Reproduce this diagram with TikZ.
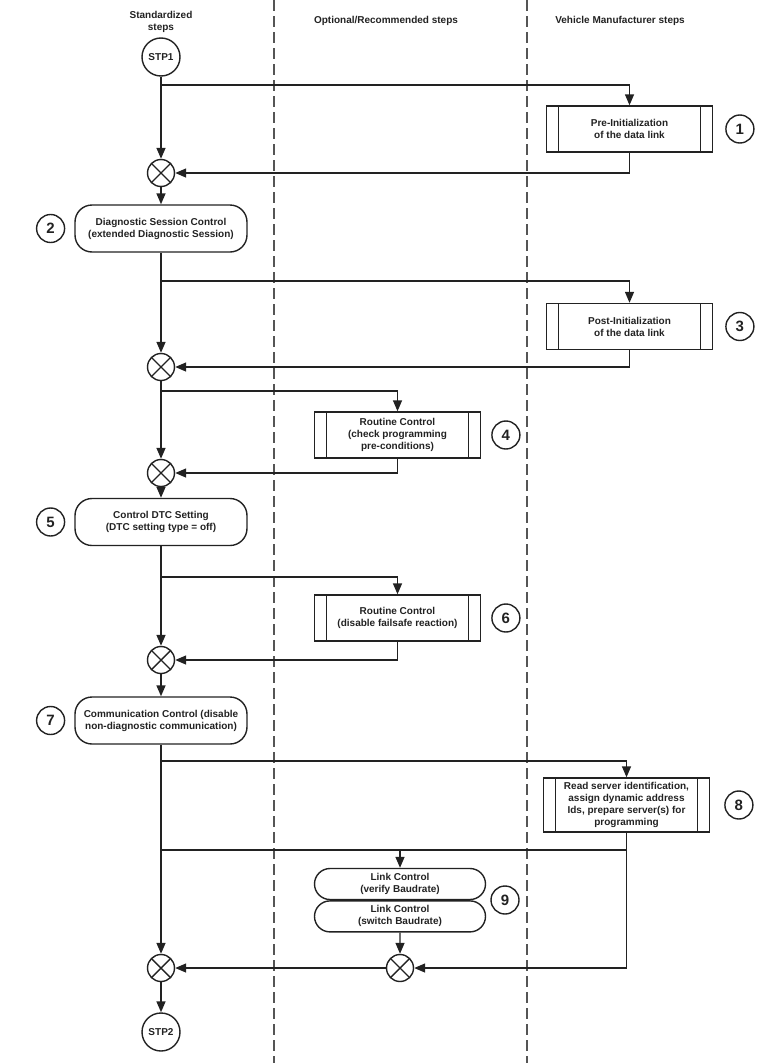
\documentclass[tikz,border=0pt]{standalone}
\usepackage{fontspec}
\setmainfont{Liberation Sans}
\usetikzlibrary{positioning,arrows.meta,shapes.misc}

\definecolor{ink}{HTML}{222222}
\definecolor{lanegray}{HTML}{555555}
\newcommand\stepfont{\fontsize{10}{12}\selectfont\bfseries}

\tikzset{
	flow/.style={draw=ink,line width=1.4pt,-{Triangle[length=11pt,width=9pt]}},
	wire/.style={draw=ink,line width=1.4pt},
	lane/.style={draw=lanegray,line width=1.4pt,dash pattern=on 11pt off 5pt},
	terminal/.style={shape=circle,draw=ink,line width=1.4pt,minimum size=38pt,inner sep=0pt,font=\stepfont,text=ink},
	merge/.style={shape=circle,draw=ink,line width=1.4pt,minimum size=27pt,inner sep=0pt,
		path picture={\draw[ink,line width=1.4pt] (path picture bounding box.north west) -- (path picture bounding box.south east)
			(path picture bounding box.north east) -- (path picture bounding box.south west);}},
	stdbox/.style={shape=rectangle,rounded corners=17pt,draw=ink,line width=1.4pt,minimum width=172pt,minimum height=47pt,
		align=center,font=\stepfont,text=ink},
	subproc/.style={shape=rectangle,draw=ink,line width=1.4pt,minimum width=166pt,minimum height=46pt,
		align=center,font=\stepfont,text=ink,
		path picture={\draw[ink,line width=1.4pt]
			([xshift=12pt]path picture bounding box.north west) -- ([xshift=12pt]path picture bounding box.south west)
			([xshift=-12pt]path picture bounding box.north east) -- ([xshift=-12pt]path picture bounding box.south east);}},
	linkbox/.style={shape=rounded rectangle,draw=ink,line width=1.4pt,minimum width=173pt,minimum height=31pt,
		inner sep=1pt,align=center,font=\stepfont,text=ink},
	num/.style={shape=circle,draw=ink,line width=1.4pt,minimum size=28pt,inner sep=0pt,
		font=\fontsize{15}{15}\selectfont\bfseries,text=ink},
	header/.style={align=center,font=\stepfont,text=ink}
}

\begin{document}
\begin{tikzpicture}[x=1pt,y=-1pt]
	\useasboundingbox (0,0) rectangle (768,1063);

	% swim lanes
	\draw[lane] (274,0) -- (274,1063);
	\draw[lane] (527,0) -- (527,1063);
	\node[header] (hstd) at (161,22) {Standardized\\steps};
	\node[header] (hopt) at (386,21) {Optional/Recommended steps};
	\node[header] (hveh) at (620,21) {Vehicle Manufacturer steps};

	% standardized column
	\node[terminal] (stp1) at (161,57) {STP1};
	\node[merge] (m1) at (161,173) {};
	\node[stdbox] (dsc) at (161,228.5) {Diagnostic Session Control\\(extended Diagnostic Session)};
	\node[merge] (m2) at (161,367) {};
	\node[merge] (m3) at (161,473) {};
	\node[stdbox] (dtc) at (161,522) {Control DTC Setting\\(DTC setting type = off)};
	\node[merge] (m4) at (161,660) {};
	\node[stdbox] (comm) at (161,720.5) {Communication Control (disable\\non-diagnostic communication)};
	\node[merge] (m5) at (161,968) {};
	\node[terminal] (stp2) at (161,1032) {STP2};

	% optional and manufacturer steps
	\node[subproc] (preinit) at (629.5,129) {Pre-Initialization\\of the data link};
	\node[subproc] (postinit) at (629.5,326.5) {Post-Initialization\\of the data link};
	\node[subproc] (chkprog) at (397.5,435) {Routine Control\\(check programming\\pre-conditions)};
	\node[subproc] (failsafe) at (397.5,618) {Routine Control\\(disable failsafe reaction)};
	\node[subproc,minimum height=54pt] (readsrv) at (626.5,805) {Read server identification,\\assign dynamic address\\Ids, prepare server(s) for\\programming};
	\node[linkbox] (verify) at (400,884) {Link Control\\(verify Baudrate)};
	\node[linkbox] (switch) [below=0pt of verify] {Link Control\\(switch Baudrate)};
	\node[merge] (m6) at (400,968) {};

	% step numbers
	\node[num] (n1) [right=12pt of preinit] {1};
	\node[num] (n2) [left=9pt of dsc] {2};
	\node[num] (n3) [right=12pt of postinit] {3};
	\node[num] (n4) [right=10pt of chkprog] {4};
	\node[num] (n5) [left=9pt of dtc] {5};
	\node[num] (n6) [right=10pt of failsafe] {6};
	\node[num] (n7) [left=9pt of comm] {7};
	\node[num] (n8) [right=14pt of readsrv] {8};
	\node[num] (n9) at (505,900) {9};

	% branch points
	\coordinate (b1) at (161,85);
	\coordinate (b2) at (161,281);
	\coordinate (b3) at (161,391);
	\coordinate (b4) at (161,577);
	\coordinate (b5) at (161,761);
	\coordinate (b6) at (161,850);
	\coordinate (j6) at (627,850);
	\coordinate (b7) at (400,850);

	% connectors
	\draw[flow] (stp1) -- (m1);
	\draw[flow] (b1) -| (preinit);
	\draw[flow] (preinit) |- (m1);
	\draw[flow] (m1) -- (dsc);
	\draw[flow] (dsc) -- (m2);
	\draw[flow] (b2) -| (postinit);
	\draw[flow] (postinit) |- (m2);
	\draw[flow] (m2) -- (m3);
	\draw[flow] (b3) -| (chkprog);
	\draw[flow] (chkprog) |- (m3);
	\draw[flow] (m3) -- (dtc);
	\draw[flow] (dtc) -- (m4);
	\draw[flow] (b4) -| (failsafe);
	\draw[flow] (failsafe) |- (m4);
	\draw[flow] (m4) -- (comm);
	\draw[flow] (comm) -- (m5);
	\draw[flow] (b5) -| (readsrv);
	\draw[flow] (readsrv) |- (m6);
	\draw[wire] (b6) -- (j6);
	\draw[flow] (b7) -- (verify);
	\draw[flow] (switch) -- (m6);
	\draw[flow] (m6) -- (m5);
	\draw[flow] (m5) -- (stp2);
\end{tikzpicture}
\end{document}
